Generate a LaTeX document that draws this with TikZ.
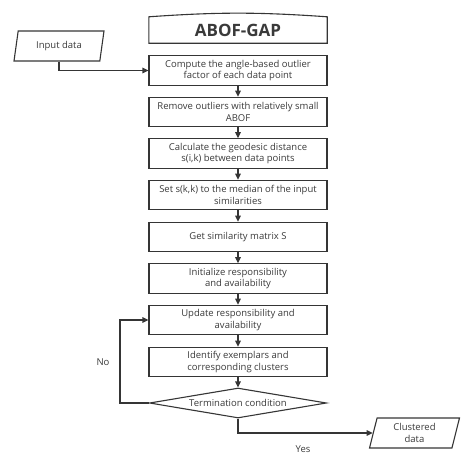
\documentclass[tikz,border=0pt]{standalone}
\usepackage{fontspec}
\setmainfont{Open Sans}
\usetikzlibrary{arrows.meta,shapes.geometric}
\definecolor{linegray}{HTML}{353535}
\definecolor{textgray}{HTML}{3A3A3A}
\tikzset{
  flow/.style={-{Triangle[length=6pt,width=5.5pt]}, line width=1.1pt, draw=linegray},
  procbox/.style={draw=linegray, line width=1.1pt, minimum width=178pt,
    minimum height=29.5pt, align=center, inner sep=1pt, text=textgray,
    font=\fontsize{9.5}{11.5}\selectfont},
  iobox/.style={trapezium, trapezium left angle=70, trapezium right angle=110,
    trapezium stretches body, draw=linegray, line width=1.1pt,
    minimum width=90pt, minimum height=30pt, align=center, inner sep=1pt,
    text=textgray, font=\fontsize{9.5}{11.5}\selectfont},
  decision/.style={diamond, aspect=6, draw=linegray, line width=1.1pt,
    minimum width=177pt, minimum height=30pt, inner sep=1pt, text=textgray,
    font=\fontsize{9.5}{11.5}\selectfont},
  flowlabel/.style={text=textgray, font=\fontsize{9.5}{11.5}\selectfont}
}

\begin{document}
\begin{tikzpicture}[x=1pt, y=-1pt]
  \useasboundingbox (0,0) rectangle (474,474);

  % centre line of the main column
  \def\cx{238}

  % title with bowed top
  \node[minimum width=178pt, minimum height=26pt, inner sep=0pt, text=textgray,
    font=\fontsize{17}{20}\selectfont\bfseries] (title) at (\cx,30) {ABOF-GAP};
  \draw[line width=1.1pt, draw=linegray]
    (title.south west) -- (title.north west) to[bend left=4] (title.north east)
    -- (title.south east) -- cycle;

  % input
  \node[iobox] (input) at (59,46) {Input data};

  % process steps
  \node[procbox] (compute) at (\cx,70.5) {Compute the angle-based outlier\\factor of each data point};
  \node[procbox] (remove) at (\cx,112) {Remove outliers with relatively small\\ABOF};
  \node[procbox] (geodesic) at (\cx,153.5) {Calculate the geodesic distance\\s(i,k) between data points};
  \node[procbox] (median) at (\cx,195) {Set s(k,k) to the median of the input\\similarities};
  \node[procbox] (simmat) at (\cx,237) {Get similarity matrix S};
  \node[procbox] (init) at (\cx,278.5) {Initialize responsibility\\and availability};
  \node[procbox] (update) at (\cx,320) {Update responsibility and\\availability};
  \node[procbox] (identify) at (\cx,362) {Identify exemplars and\\corresponding clusters};

  % termination test and output
  \node[decision] (term) at (\cx,403) {Termination condition};
  \node[iobox] (clustered) at (414.5,433) {Clustered\\data};

  % arrows down the column
  \draw[flow] (input.south) |- (compute.west);
  \foreach \src/\dst in {compute/remove, remove/geodesic, geodesic/median,
    median/simmat, simmat/init, init/update, update/identify, identify/term}{
    \draw[flow] (\src) -- (\dst);
  }

  % loop back and exit
  \draw[flow] (term.west) -- ++(-29,0) |- (update.west);
  \draw[flow] (term.south) |- (clustered.west);
  \node[flowlabel] (no) at (103,362) {No};
  \node[flowlabel] (yes) at (303,449) {Yes};

\end{tikzpicture}
\end{document}
